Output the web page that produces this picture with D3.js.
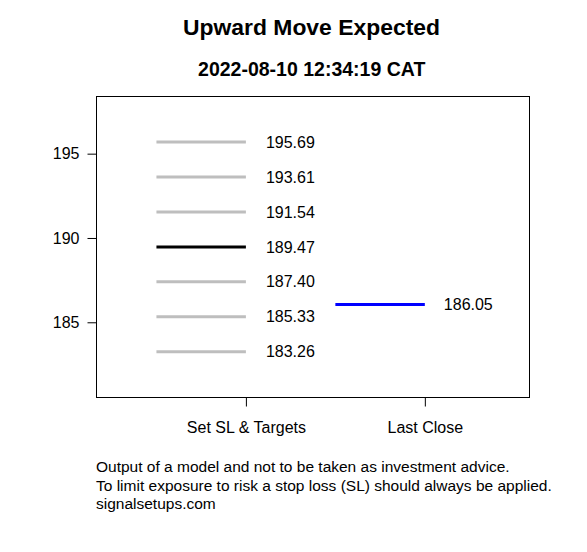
<!DOCTYPE html>
<html><head><meta charset="utf-8">
<script src="https://cdn.jsdelivr.net/npm/d3@7"></script>
<style>body{margin:0;background:#fff}svg{display:block;font-family:"Liberation Sans",Arial,sans-serif}</style>
</head><body>
<script>
const categories = ["Set SL & Targets", "Last Close"];
const targetLevels = [195.69, 193.61, 191.54, 189.47, 187.40, 185.33, 183.26];
const entryLevel = 189.47;
const lastClose = [186.05];
const yTicks = [185, 190, 195];
const title = "Upward Move Expected";
const subtitle = "2022-08-10 12:34:19 CAT";
const footer = ["Output of a model and not to be taken as investment advice.",
  "To limit exposure to risk a stop loss (SL) should always be applied.",
  "signalsetups.com"];

const W = 587, H = 552;
const box = {l: 96.5, r: 529.5, t: 96.5, b: 397.5};
const svg = d3.select("body").append("svg").attr("width", W).attr("height", H);

const y = d3.scaleLinear().domain([180.54, 198.39]).range([box.b, box.t]);
const x = d3.scaleLinear().domain([-0.835, 1.585]).range([box.l, box.r]);

// titles
svg.append("text").attr("x", 311.5).attr("y", 35).attr("text-anchor", "middle")
  .attr("font-weight", "bold").attr("font-size", 22.9).text(title);
svg.append("text").attr("x", 311.7).attr("y", 75.5).attr("text-anchor", "middle")
  .attr("font-weight", "bold").attr("font-size", 19.5).text(subtitle);

// box
svg.append("rect").attr("x", box.l).attr("y", box.t).attr("width", box.r - box.l)
  .attr("height", box.b - box.t).attr("fill", "none").attr("stroke", "#000");

// y axis
const yAxis = d3.axisLeft(y).tickValues(yTicks).tickSize(9).tickPadding(8).tickFormat(d3.format("d"));
const gy = svg.append("g").attr("transform", `translate(${box.l},0)`).call(yAxis);
gy.select(".domain").remove();
gy.selectAll("text").attr("font-size", 16).attr("font-family", "Liberation Sans, Arial, sans-serif").attr("fill", "#000");
gy.selectAll("line").attr("stroke", "#000");

// x axis
const xAxis = d3.axisBottom(x).tickValues([0, 1]).tickSize(9).tickPadding(15)
  .tickFormat(i => categories[i]);
const gx = svg.append("g").attr("transform", `translate(0,${box.b})`).call(xAxis);
gx.select(".domain").remove();
gx.selectAll("text").attr("font-size", 16).attr("font-family", "Liberation Sans, Arial, sans-serif").attr("fill", "#000");
gx.selectAll("line").attr("stroke", "#000");

// target lines
svg.append("g").selectAll("line").data(targetLevels).join("line")
  .attr("x1", x(-0.5)).attr("x2", x(0))
  .attr("y1", d => y(d)).attr("y2", d => y(d))
  .attr("stroke", d => d === entryLevel ? "#000" : "#bebebe")
  .attr("stroke-width", 3);
svg.append("g").selectAll("text").data(targetLevels).join("text")
  .attr("x", x(0) + 20).attr("y", d => y(d)).attr("dy", "0.35em")
  .attr("font-size", 16).text(d => d.toFixed(2));

// last close
svg.append("g").selectAll("line").data(lastClose).join("line")
  .attr("x1", x(0.5)).attr("x2", x(1))
  .attr("y1", d => y(d)).attr("y2", d => y(d))
  .attr("stroke", "#0000ff").attr("stroke-width", 3);
svg.append("g").selectAll("text").data(lastClose).join("text")
  .attr("x", x(1) + 19).attr("y", d => y(d)).attr("dy", "0.35em")
  .attr("font-size", 16).text(d => d.toFixed(2));

// footer
svg.append("g").selectAll("text").data(footer).join("text")
  .attr("x", 96).attr("y", (d, i) => 472 + i * 18.6)
  .attr("font-size", 15.5).text(d => d);
</script>
</body></html>
